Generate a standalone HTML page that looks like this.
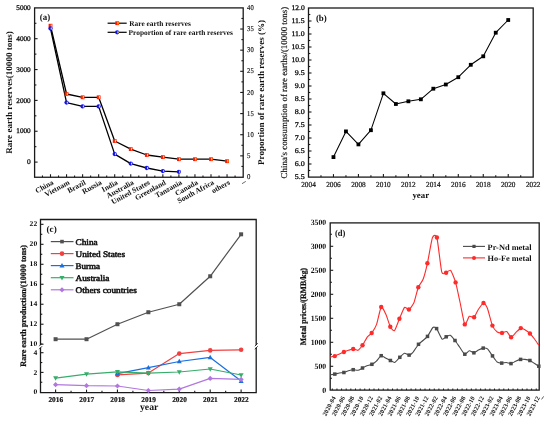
<!DOCTYPE html>
<html><head><meta charset="utf-8"><title>Rare earth figure</title>
<style>html,body{margin:0;padding:0;background:#fff;}svg{display:block;}text{font-family:"Liberation Serif", "DejaVu Serif", serif;fill:#111;text-rendering:geometricPrecision;}</style></head><body>
<svg width="550" height="421" viewBox="0 0 550 421">
<rect width="550" height="421" fill="#fff"/>
<line x1="34.6" y1="162.1" x2="37.6" y2="162.1" stroke="#1a1a1a" stroke-width="1.1"/>
<line x1="34.6" y1="146.67" x2="36.4" y2="146.67" stroke="#1a1a1a" stroke-width="1.1"/>
<line x1="34.6" y1="131.25" x2="37.6" y2="131.25" stroke="#1a1a1a" stroke-width="1.1"/>
<line x1="34.6" y1="115.82" x2="36.4" y2="115.82" stroke="#1a1a1a" stroke-width="1.1"/>
<line x1="34.6" y1="100.4" x2="37.6" y2="100.4" stroke="#1a1a1a" stroke-width="1.1"/>
<line x1="34.6" y1="84.97" x2="36.4" y2="84.97" stroke="#1a1a1a" stroke-width="1.1"/>
<line x1="34.6" y1="69.55" x2="37.6" y2="69.55" stroke="#1a1a1a" stroke-width="1.1"/>
<line x1="34.6" y1="54.12" x2="36.4" y2="54.12" stroke="#1a1a1a" stroke-width="1.1"/>
<line x1="34.6" y1="38.7" x2="37.6" y2="38.7" stroke="#1a1a1a" stroke-width="1.1"/>
<line x1="34.6" y1="23.28" x2="36.4" y2="23.28" stroke="#1a1a1a" stroke-width="1.1"/>
<text x="30.7" y="164.34" font-size="7.1" text-anchor="end" textLength="3.7" lengthAdjust="spacingAndGlyphs" stroke="#111" stroke-width="0.3">0</text>
<text x="30.7" y="133.49" font-size="7.1" text-anchor="end" textLength="14.4" lengthAdjust="spacingAndGlyphs" stroke="#111" stroke-width="0.3">1000</text>
<text x="30.7" y="102.64" font-size="7.1" text-anchor="end" textLength="14.4" lengthAdjust="spacingAndGlyphs" stroke="#111" stroke-width="0.3">2000</text>
<text x="30.7" y="71.79" font-size="7.1" text-anchor="end" textLength="14.4" lengthAdjust="spacingAndGlyphs" stroke="#111" stroke-width="0.3">3000</text>
<text x="30.7" y="40.94" font-size="7.1" text-anchor="end" textLength="14.4" lengthAdjust="spacingAndGlyphs" stroke="#111" stroke-width="0.3">4000</text>
<text x="30.7" y="10.09" font-size="7.1" text-anchor="end" textLength="14.4" lengthAdjust="spacingAndGlyphs" stroke="#111" stroke-width="0.3">5000</text>
<line x1="241.4" y1="166.43" x2="243.2" y2="166.43" stroke="#1a1a1a" stroke-width="1.1"/>
<line x1="240.2" y1="155.86" x2="243.2" y2="155.86" stroke="#1a1a1a" stroke-width="1.1"/>
<line x1="241.4" y1="145.29" x2="243.2" y2="145.29" stroke="#1a1a1a" stroke-width="1.1"/>
<line x1="240.2" y1="134.72" x2="243.2" y2="134.72" stroke="#1a1a1a" stroke-width="1.1"/>
<line x1="241.4" y1="124.16" x2="243.2" y2="124.16" stroke="#1a1a1a" stroke-width="1.1"/>
<line x1="240.2" y1="113.59" x2="243.2" y2="113.59" stroke="#1a1a1a" stroke-width="1.1"/>
<line x1="241.4" y1="103.02" x2="243.2" y2="103.02" stroke="#1a1a1a" stroke-width="1.1"/>
<line x1="240.2" y1="92.45" x2="243.2" y2="92.45" stroke="#1a1a1a" stroke-width="1.1"/>
<line x1="241.4" y1="81.88" x2="243.2" y2="81.88" stroke="#1a1a1a" stroke-width="1.1"/>
<line x1="240.2" y1="71.31" x2="243.2" y2="71.31" stroke="#1a1a1a" stroke-width="1.1"/>
<line x1="241.4" y1="60.74" x2="243.2" y2="60.74" stroke="#1a1a1a" stroke-width="1.1"/>
<line x1="240.2" y1="50.17" x2="243.2" y2="50.17" stroke="#1a1a1a" stroke-width="1.1"/>
<line x1="241.4" y1="39.61" x2="243.2" y2="39.61" stroke="#1a1a1a" stroke-width="1.1"/>
<line x1="240.2" y1="29.04" x2="243.2" y2="29.04" stroke="#1a1a1a" stroke-width="1.1"/>
<line x1="241.4" y1="18.47" x2="243.2" y2="18.47" stroke="#1a1a1a" stroke-width="1.1"/>
<text x="247.1" y="179.14" font-size="7.4" textLength="3.4" lengthAdjust="spacingAndGlyphs" stroke="#111" stroke-width="0.15">0</text>
<text x="247.1" y="158" font-size="7.4" textLength="3.4" lengthAdjust="spacingAndGlyphs" stroke="#111" stroke-width="0.15">5</text>
<text x="247.1" y="136.87" font-size="7.4" textLength="6.6" lengthAdjust="spacingAndGlyphs" stroke="#111" stroke-width="0.15">10</text>
<text x="247.1" y="115.73" font-size="7.4" textLength="6.6" lengthAdjust="spacingAndGlyphs" stroke="#111" stroke-width="0.15">15</text>
<text x="247.1" y="94.59" font-size="7.4" textLength="6.6" lengthAdjust="spacingAndGlyphs" stroke="#111" stroke-width="0.15">20</text>
<text x="247.1" y="73.45" font-size="7.4" textLength="6.6" lengthAdjust="spacingAndGlyphs" stroke="#111" stroke-width="0.15">25</text>
<text x="247.1" y="52.32" font-size="7.4" textLength="6.6" lengthAdjust="spacingAndGlyphs" stroke="#111" stroke-width="0.15">30</text>
<text x="247.1" y="31.18" font-size="7.4" textLength="6.6" lengthAdjust="spacingAndGlyphs" stroke="#111" stroke-width="0.15">35</text>
<text x="247.1" y="10.04" font-size="7.4" textLength="6.6" lengthAdjust="spacingAndGlyphs" stroke="#111" stroke-width="0.15">40</text>
<line x1="42.48" y1="177.25" x2="42.48" y2="175.45" stroke="#1a1a1a" stroke-width="1.1"/>
<line x1="50.5" y1="177.25" x2="50.5" y2="174.25" stroke="#1a1a1a" stroke-width="1.1"/>
<line x1="58.52" y1="177.25" x2="58.52" y2="175.45" stroke="#1a1a1a" stroke-width="1.1"/>
<line x1="66.55" y1="177.25" x2="66.55" y2="174.25" stroke="#1a1a1a" stroke-width="1.1"/>
<line x1="74.58" y1="177.25" x2="74.58" y2="175.45" stroke="#1a1a1a" stroke-width="1.1"/>
<line x1="82.6" y1="177.25" x2="82.6" y2="174.25" stroke="#1a1a1a" stroke-width="1.1"/>
<line x1="90.62" y1="177.25" x2="90.62" y2="175.45" stroke="#1a1a1a" stroke-width="1.1"/>
<line x1="98.65" y1="177.25" x2="98.65" y2="174.25" stroke="#1a1a1a" stroke-width="1.1"/>
<line x1="106.68" y1="177.25" x2="106.68" y2="175.45" stroke="#1a1a1a" stroke-width="1.1"/>
<line x1="114.7" y1="177.25" x2="114.7" y2="174.25" stroke="#1a1a1a" stroke-width="1.1"/>
<line x1="122.73" y1="177.25" x2="122.73" y2="175.45" stroke="#1a1a1a" stroke-width="1.1"/>
<line x1="130.75" y1="177.25" x2="130.75" y2="174.25" stroke="#1a1a1a" stroke-width="1.1"/>
<line x1="138.78" y1="177.25" x2="138.78" y2="175.45" stroke="#1a1a1a" stroke-width="1.1"/>
<line x1="146.8" y1="177.25" x2="146.8" y2="174.25" stroke="#1a1a1a" stroke-width="1.1"/>
<line x1="154.83" y1="177.25" x2="154.83" y2="175.45" stroke="#1a1a1a" stroke-width="1.1"/>
<line x1="162.85" y1="177.25" x2="162.85" y2="174.25" stroke="#1a1a1a" stroke-width="1.1"/>
<line x1="170.88" y1="177.25" x2="170.88" y2="175.45" stroke="#1a1a1a" stroke-width="1.1"/>
<line x1="178.9" y1="177.25" x2="178.9" y2="174.25" stroke="#1a1a1a" stroke-width="1.1"/>
<line x1="186.93" y1="177.25" x2="186.93" y2="175.45" stroke="#1a1a1a" stroke-width="1.1"/>
<line x1="194.95" y1="177.25" x2="194.95" y2="174.25" stroke="#1a1a1a" stroke-width="1.1"/>
<line x1="202.98" y1="177.25" x2="202.98" y2="175.45" stroke="#1a1a1a" stroke-width="1.1"/>
<line x1="211" y1="177.25" x2="211" y2="174.25" stroke="#1a1a1a" stroke-width="1.1"/>
<line x1="219.03" y1="177.25" x2="219.03" y2="175.45" stroke="#1a1a1a" stroke-width="1.1"/>
<line x1="227.05" y1="177.25" x2="227.05" y2="174.25" stroke="#1a1a1a" stroke-width="1.1"/>
<line x1="235.08" y1="177.25" x2="235.08" y2="175.45" stroke="#1a1a1a" stroke-width="1.1"/>
<rect x="34.6" y="7.9" width="208.6" height="169.35" fill="none" stroke="#1a1a1a" stroke-width="1.3"/>
<text x="11.9" y="92.5" transform="rotate(-90 11.9 92.5)" font-size="8.8" text-anchor="middle" font-weight="bold" textLength="122.7" lengthAdjust="spacingAndGlyphs">Rare earth reserves(10000 tons)</text>
<text x="263.7" y="92.45" transform="rotate(-90 263.7 92.45)" font-size="8.8" text-anchor="middle" font-weight="bold" textLength="144.9" lengthAdjust="spacingAndGlyphs">Proportion of rare earth reserves (%)</text>
<text x="39.75" y="20.07" font-size="9" font-weight="bold" textLength="10.4" lengthAdjust="spacingAndGlyphs">(a)</text>
<text x="52.9" y="184.2" font-size="7.5" font-weight="bold" text-anchor="end" transform="rotate(-29 52.9 181.7)">China</text>
<text x="68.95" y="184.2" font-size="7.5" font-weight="bold" text-anchor="end" transform="rotate(-29 68.95 181.7)">Vietnam</text>
<text x="85" y="184.2" font-size="7.5" font-weight="bold" text-anchor="end" transform="rotate(-29 85 181.7)">Brazil</text>
<text x="101.05" y="184.2" font-size="7.5" font-weight="bold" text-anchor="end" transform="rotate(-29 101.05 181.7)">Russia</text>
<text x="117.1" y="184.2" font-size="7.5" font-weight="bold" text-anchor="end" transform="rotate(-29 117.1 181.7)">India</text>
<text x="133.15" y="184.2" font-size="7.5" font-weight="bold" text-anchor="end" transform="rotate(-29 133.15 181.7)">Australia</text>
<text x="149.2" y="184.2" font-size="7.5" font-weight="bold" text-anchor="end" transform="rotate(-29 149.2 181.7)">United States</text>
<text x="165.25" y="184.2" font-size="7.5" font-weight="bold" text-anchor="end" transform="rotate(-29 165.25 181.7)">Greenland</text>
<text x="181.3" y="184.2" font-size="7.5" font-weight="bold" text-anchor="end" transform="rotate(-29 181.3 181.7)">Tanzania</text>
<text x="197.35" y="184.2" font-size="7.5" font-weight="bold" text-anchor="end" transform="rotate(-29 197.35 181.7)">Canada</text>
<text x="213.4" y="184.2" font-size="7.5" font-weight="bold" text-anchor="end" transform="rotate(-29 213.4 181.7)">South Africa</text>
<text x="229.45" y="184.2" font-size="7.5" font-weight="bold" text-anchor="end" transform="rotate(-29 229.45 181.7)">others</text>
<line x1="242" y1="183.7" x2="245.8" y2="181.4" stroke="#444" stroke-width="0.8"/>
<polyline points="50.5,25.7 66.55,94 82.6,97.3 98.65,97.3 114.7,141 130.75,149.1 146.8,155 162.85,157.1 178.9,159.2 194.95,159.2 211,159.2 227.05,161.2" fill="none" stroke="#000" stroke-width="1.3" stroke-linejoin="round"/>
<polyline points="50.5,28.5 66.55,102.6 82.6,106.4 98.65,106.4 114.7,154.1 130.75,163.6 146.8,168 162.85,171.1 178.9,171.8" fill="none" stroke="#000" stroke-width="1.3" stroke-linejoin="round"/>
<rect x="48.6" y="23.8" width="3.8" height="3.8" fill="#ff1a00"/>
<rect x="50.7" y="24.4" width="1.1" height="2.6" fill="#ffe000"/>
<rect x="64.65" y="92.1" width="3.8" height="3.8" fill="#ff1a00"/>
<rect x="66.75" y="92.7" width="1.1" height="2.6" fill="#ffe000"/>
<rect x="80.7" y="95.4" width="3.8" height="3.8" fill="#ff1a00"/>
<rect x="82.8" y="96" width="1.1" height="2.6" fill="#ffe000"/>
<rect x="96.75" y="95.4" width="3.8" height="3.8" fill="#ff1a00"/>
<rect x="98.85" y="96" width="1.1" height="2.6" fill="#ffe000"/>
<rect x="112.8" y="139.1" width="3.8" height="3.8" fill="#ff1a00"/>
<rect x="114.9" y="139.7" width="1.1" height="2.6" fill="#ffe000"/>
<rect x="128.85" y="147.2" width="3.8" height="3.8" fill="#ff1a00"/>
<rect x="130.95" y="147.8" width="1.1" height="2.6" fill="#ffe000"/>
<rect x="144.9" y="153.1" width="3.8" height="3.8" fill="#ff1a00"/>
<rect x="147" y="153.7" width="1.1" height="2.6" fill="#ffe000"/>
<rect x="160.95" y="155.2" width="3.8" height="3.8" fill="#ff1a00"/>
<rect x="163.05" y="155.8" width="1.1" height="2.6" fill="#ffe000"/>
<rect x="177" y="157.3" width="3.8" height="3.8" fill="#ff1a00"/>
<rect x="179.1" y="157.9" width="1.1" height="2.6" fill="#ffe000"/>
<rect x="193.05" y="157.3" width="3.8" height="3.8" fill="#ff1a00"/>
<rect x="195.15" y="157.9" width="1.1" height="2.6" fill="#ffe000"/>
<rect x="209.1" y="157.3" width="3.8" height="3.8" fill="#ff1a00"/>
<rect x="211.2" y="157.9" width="1.1" height="2.6" fill="#ffe000"/>
<rect x="225.15" y="159.3" width="3.8" height="3.8" fill="#ff1a00"/>
<rect x="227.25" y="159.9" width="1.1" height="2.6" fill="#ffe000"/>
<circle cx="50.5" cy="28.5" r="2.15" fill="#1010ff"/>
<ellipse cx="51.3" cy="28.5" rx="0.6" ry="1.2" fill="#ffe800"/>
<circle cx="66.55" cy="102.6" r="2.15" fill="#1010ff"/>
<ellipse cx="67.35" cy="102.6" rx="0.6" ry="1.2" fill="#ffe800"/>
<circle cx="82.6" cy="106.4" r="2.15" fill="#1010ff"/>
<ellipse cx="83.4" cy="106.4" rx="0.6" ry="1.2" fill="#ffe800"/>
<circle cx="98.65" cy="106.4" r="2.15" fill="#1010ff"/>
<ellipse cx="99.45" cy="106.4" rx="0.6" ry="1.2" fill="#ffe800"/>
<circle cx="114.7" cy="154.1" r="2.15" fill="#1010ff"/>
<ellipse cx="115.5" cy="154.1" rx="0.6" ry="1.2" fill="#ffe800"/>
<circle cx="130.75" cy="163.6" r="2.15" fill="#1010ff"/>
<ellipse cx="131.55" cy="163.6" rx="0.6" ry="1.2" fill="#ffe800"/>
<circle cx="146.8" cy="168" r="2.15" fill="#1010ff"/>
<ellipse cx="147.6" cy="168" rx="0.6" ry="1.2" fill="#ffe800"/>
<circle cx="162.85" cy="171.1" r="2.15" fill="#1010ff"/>
<ellipse cx="163.65" cy="171.1" rx="0.6" ry="1.2" fill="#ffe800"/>
<circle cx="178.9" cy="171.8" r="2.15" fill="#1010ff"/>
<ellipse cx="179.7" cy="171.8" rx="0.6" ry="1.2" fill="#ffe800"/>
<line x1="107.6" y1="23.2" x2="126.7" y2="23.2" stroke="#000" stroke-width="1.2"/>
<rect x="115.3" y="21.3" width="3.8" height="3.8" fill="#ff1a00"/>
<rect x="117.4" y="21.9" width="1.1" height="2.6" fill="#ffe000"/>
<text x="129.3" y="25.94" font-size="7.4" font-weight="bold" textLength="61.5" lengthAdjust="spacingAndGlyphs">Rare earth reserves</text>
<line x1="107.6" y1="32.3" x2="126.7" y2="32.3" stroke="#000" stroke-width="1.2"/>
<circle cx="117.2" cy="32.3" r="2.15" fill="#1010ff"/>
<ellipse cx="118" cy="32.3" rx="0.6" ry="1.2" fill="#ffe800"/>
<text x="128.6" y="35.24" font-size="7.4" font-weight="bold" textLength="104.2" lengthAdjust="spacingAndGlyphs">Proportion of rare earth reserves</text>
<line x1="308.5" y1="170.5" x2="310.3" y2="170.5" stroke="#1a1a1a" stroke-width="1.1"/>
<line x1="308.5" y1="164" x2="311.5" y2="164" stroke="#1a1a1a" stroke-width="1.1"/>
<line x1="308.5" y1="157.5" x2="310.3" y2="157.5" stroke="#1a1a1a" stroke-width="1.1"/>
<line x1="308.5" y1="151" x2="311.5" y2="151" stroke="#1a1a1a" stroke-width="1.1"/>
<line x1="308.5" y1="144.5" x2="310.3" y2="144.5" stroke="#1a1a1a" stroke-width="1.1"/>
<line x1="308.5" y1="138" x2="311.5" y2="138" stroke="#1a1a1a" stroke-width="1.1"/>
<line x1="308.5" y1="131.5" x2="310.3" y2="131.5" stroke="#1a1a1a" stroke-width="1.1"/>
<line x1="308.5" y1="125" x2="311.5" y2="125" stroke="#1a1a1a" stroke-width="1.1"/>
<line x1="308.5" y1="118.5" x2="310.3" y2="118.5" stroke="#1a1a1a" stroke-width="1.1"/>
<line x1="308.5" y1="112" x2="311.5" y2="112" stroke="#1a1a1a" stroke-width="1.1"/>
<line x1="308.5" y1="105.5" x2="310.3" y2="105.5" stroke="#1a1a1a" stroke-width="1.1"/>
<line x1="308.5" y1="99" x2="311.5" y2="99" stroke="#1a1a1a" stroke-width="1.1"/>
<line x1="308.5" y1="92.5" x2="310.3" y2="92.5" stroke="#1a1a1a" stroke-width="1.1"/>
<line x1="308.5" y1="86" x2="311.5" y2="86" stroke="#1a1a1a" stroke-width="1.1"/>
<line x1="308.5" y1="79.5" x2="310.3" y2="79.5" stroke="#1a1a1a" stroke-width="1.1"/>
<line x1="308.5" y1="73" x2="311.5" y2="73" stroke="#1a1a1a" stroke-width="1.1"/>
<line x1="308.5" y1="66.5" x2="310.3" y2="66.5" stroke="#1a1a1a" stroke-width="1.1"/>
<line x1="308.5" y1="60" x2="311.5" y2="60" stroke="#1a1a1a" stroke-width="1.1"/>
<line x1="308.5" y1="53.5" x2="310.3" y2="53.5" stroke="#1a1a1a" stroke-width="1.1"/>
<line x1="308.5" y1="47" x2="311.5" y2="47" stroke="#1a1a1a" stroke-width="1.1"/>
<line x1="308.5" y1="40.5" x2="310.3" y2="40.5" stroke="#1a1a1a" stroke-width="1.1"/>
<line x1="308.5" y1="34" x2="311.5" y2="34" stroke="#1a1a1a" stroke-width="1.1"/>
<line x1="308.5" y1="27.5" x2="310.3" y2="27.5" stroke="#1a1a1a" stroke-width="1.1"/>
<line x1="308.5" y1="21" x2="311.5" y2="21" stroke="#1a1a1a" stroke-width="1.1"/>
<line x1="308.5" y1="14.5" x2="310.3" y2="14.5" stroke="#1a1a1a" stroke-width="1.1"/>
<text x="304.7" y="178.94" font-size="7.1" text-anchor="end" textLength="10" lengthAdjust="spacingAndGlyphs" stroke="#111" stroke-width="0.3">5.5</text>
<text x="304.7" y="165.94" font-size="7.1" text-anchor="end" textLength="10" lengthAdjust="spacingAndGlyphs" stroke="#111" stroke-width="0.3">6.0</text>
<text x="304.7" y="152.94" font-size="7.1" text-anchor="end" textLength="10" lengthAdjust="spacingAndGlyphs" stroke="#111" stroke-width="0.3">6.5</text>
<text x="304.7" y="139.94" font-size="7.1" text-anchor="end" textLength="10" lengthAdjust="spacingAndGlyphs" stroke="#111" stroke-width="0.3">7.0</text>
<text x="304.7" y="126.94" font-size="7.1" text-anchor="end" textLength="10" lengthAdjust="spacingAndGlyphs" stroke="#111" stroke-width="0.3">7.5</text>
<text x="304.7" y="113.94" font-size="7.1" text-anchor="end" textLength="10" lengthAdjust="spacingAndGlyphs" stroke="#111" stroke-width="0.3">8.0</text>
<text x="304.7" y="100.94" font-size="7.1" text-anchor="end" textLength="10" lengthAdjust="spacingAndGlyphs" stroke="#111" stroke-width="0.3">8.5</text>
<text x="304.7" y="87.94" font-size="7.1" text-anchor="end" textLength="10" lengthAdjust="spacingAndGlyphs" stroke="#111" stroke-width="0.3">9.0</text>
<text x="304.7" y="74.94" font-size="7.1" text-anchor="end" textLength="10" lengthAdjust="spacingAndGlyphs" stroke="#111" stroke-width="0.3">9.5</text>
<text x="304.7" y="61.94" font-size="7.1" text-anchor="end" textLength="13.3" lengthAdjust="spacingAndGlyphs" stroke="#111" stroke-width="0.3">10.0</text>
<text x="304.7" y="48.94" font-size="7.1" text-anchor="end" textLength="13.3" lengthAdjust="spacingAndGlyphs" stroke="#111" stroke-width="0.3">10.5</text>
<text x="304.7" y="35.94" font-size="7.1" text-anchor="end" textLength="13.3" lengthAdjust="spacingAndGlyphs" stroke="#111" stroke-width="0.3">11.0</text>
<text x="304.7" y="22.94" font-size="7.1" text-anchor="end" textLength="13.3" lengthAdjust="spacingAndGlyphs" stroke="#111" stroke-width="0.3">11.5</text>
<text x="304.7" y="9.94" font-size="7.1" text-anchor="end" textLength="13.3" lengthAdjust="spacingAndGlyphs" stroke="#111" stroke-width="0.3">12.0</text>
<line x1="320.98" y1="177.1" x2="320.98" y2="175.3" stroke="#1a1a1a" stroke-width="1.1"/>
<line x1="333.47" y1="177.1" x2="333.47" y2="174.1" stroke="#1a1a1a" stroke-width="1.1"/>
<line x1="345.95" y1="177.1" x2="345.95" y2="175.3" stroke="#1a1a1a" stroke-width="1.1"/>
<line x1="358.43" y1="177.1" x2="358.43" y2="174.1" stroke="#1a1a1a" stroke-width="1.1"/>
<line x1="370.92" y1="177.1" x2="370.92" y2="175.3" stroke="#1a1a1a" stroke-width="1.1"/>
<line x1="383.4" y1="177.1" x2="383.4" y2="174.1" stroke="#1a1a1a" stroke-width="1.1"/>
<line x1="395.88" y1="177.1" x2="395.88" y2="175.3" stroke="#1a1a1a" stroke-width="1.1"/>
<line x1="408.36" y1="177.1" x2="408.36" y2="174.1" stroke="#1a1a1a" stroke-width="1.1"/>
<line x1="420.85" y1="177.1" x2="420.85" y2="175.3" stroke="#1a1a1a" stroke-width="1.1"/>
<line x1="433.33" y1="177.1" x2="433.33" y2="174.1" stroke="#1a1a1a" stroke-width="1.1"/>
<line x1="445.81" y1="177.1" x2="445.81" y2="175.3" stroke="#1a1a1a" stroke-width="1.1"/>
<line x1="458.3" y1="177.1" x2="458.3" y2="174.1" stroke="#1a1a1a" stroke-width="1.1"/>
<line x1="470.78" y1="177.1" x2="470.78" y2="175.3" stroke="#1a1a1a" stroke-width="1.1"/>
<line x1="483.26" y1="177.1" x2="483.26" y2="174.1" stroke="#1a1a1a" stroke-width="1.1"/>
<line x1="495.75" y1="177.1" x2="495.75" y2="175.3" stroke="#1a1a1a" stroke-width="1.1"/>
<line x1="508.23" y1="177.1" x2="508.23" y2="174.1" stroke="#1a1a1a" stroke-width="1.1"/>
<line x1="520.71" y1="177.1" x2="520.71" y2="175.3" stroke="#1a1a1a" stroke-width="1.1"/>
<text x="308.5" y="186.64" font-size="7.7" text-anchor="middle" textLength="14.6" lengthAdjust="spacingAndGlyphs" stroke="#111" stroke-width="0.2">2004</text>
<text x="333.47" y="186.64" font-size="7.7" text-anchor="middle" textLength="14.6" lengthAdjust="spacingAndGlyphs" stroke="#111" stroke-width="0.2">2006</text>
<text x="358.43" y="186.64" font-size="7.7" text-anchor="middle" textLength="14.6" lengthAdjust="spacingAndGlyphs" stroke="#111" stroke-width="0.2">2008</text>
<text x="383.4" y="186.64" font-size="7.7" text-anchor="middle" textLength="14.6" lengthAdjust="spacingAndGlyphs" stroke="#111" stroke-width="0.2">2010</text>
<text x="408.36" y="186.64" font-size="7.7" text-anchor="middle" textLength="14.6" lengthAdjust="spacingAndGlyphs" stroke="#111" stroke-width="0.2">2012</text>
<text x="433.33" y="186.64" font-size="7.7" text-anchor="middle" textLength="14.6" lengthAdjust="spacingAndGlyphs" stroke="#111" stroke-width="0.2">2014</text>
<text x="458.3" y="186.64" font-size="7.7" text-anchor="middle" textLength="14.6" lengthAdjust="spacingAndGlyphs" stroke="#111" stroke-width="0.2">2016</text>
<text x="483.26" y="186.64" font-size="7.7" text-anchor="middle" textLength="14.6" lengthAdjust="spacingAndGlyphs" stroke="#111" stroke-width="0.2">2018</text>
<text x="508.23" y="186.64" font-size="7.7" text-anchor="middle" textLength="14.6" lengthAdjust="spacingAndGlyphs" stroke="#111" stroke-width="0.2">2020</text>
<text x="533.19" y="186.64" font-size="7.7" text-anchor="middle" textLength="14.6" lengthAdjust="spacingAndGlyphs" stroke="#111" stroke-width="0.2">2022</text>
<rect x="308.5" y="8" width="224.7" height="169.1" fill="none" stroke="#1a1a1a" stroke-width="1.3"/>
<text x="287.3" y="92.6" transform="rotate(-90 287.3 92.6)" font-size="8.9" text-anchor="middle" textLength="171.6" lengthAdjust="spacingAndGlyphs" stroke="#111" stroke-width="0.15">China's consumption of rare earths/(10000 tons)</text>
<text x="420.8" y="198.3" font-size="8.8" text-anchor="middle" font-weight="bold" textLength="16.7" lengthAdjust="spacingAndGlyphs">year</text>
<text x="315.9" y="20.57" font-size="9" font-weight="bold" textLength="10.9" lengthAdjust="spacingAndGlyphs">(b)</text>
<polyline points="333.47,157.1 345.95,131.4 358.43,144.4 370.92,130.2 383.4,93.3 395.88,104 408.36,101.3 420.85,99.3 433.33,88.7 445.81,84.5 458.3,77.2 470.78,64.8 483.26,56.3 495.75,32.7 508.23,20" fill="none" stroke="#000" stroke-width="1.05" stroke-linejoin="round"/>
<rect x="331.57" y="155.2" width="3.8" height="3.8" fill="#000"/>
<rect x="344.05" y="129.5" width="3.8" height="3.8" fill="#000"/>
<rect x="356.53" y="142.5" width="3.8" height="3.8" fill="#000"/>
<rect x="369.02" y="128.3" width="3.8" height="3.8" fill="#000"/>
<rect x="381.5" y="91.4" width="3.8" height="3.8" fill="#000"/>
<rect x="393.98" y="102.1" width="3.8" height="3.8" fill="#000"/>
<rect x="406.46" y="99.4" width="3.8" height="3.8" fill="#000"/>
<rect x="418.95" y="97.4" width="3.8" height="3.8" fill="#000"/>
<rect x="431.43" y="86.8" width="3.8" height="3.8" fill="#000"/>
<rect x="443.91" y="82.6" width="3.8" height="3.8" fill="#000"/>
<rect x="456.4" y="75.3" width="3.8" height="3.8" fill="#000"/>
<rect x="468.88" y="62.9" width="3.8" height="3.8" fill="#000"/>
<rect x="481.36" y="54.4" width="3.8" height="3.8" fill="#000"/>
<rect x="493.85" y="30.8" width="3.8" height="3.8" fill="#000"/>
<rect x="506.33" y="18.1" width="3.8" height="3.8" fill="#000"/>
<line x1="40.5" y1="344.2" x2="43.5" y2="344.2" stroke="#1a1a1a" stroke-width="1.1"/>
<line x1="40.5" y1="334.21" x2="42.3" y2="334.21" stroke="#1a1a1a" stroke-width="1.1"/>
<line x1="40.5" y1="324.22" x2="43.5" y2="324.22" stroke="#1a1a1a" stroke-width="1.1"/>
<line x1="40.5" y1="314.23" x2="42.3" y2="314.23" stroke="#1a1a1a" stroke-width="1.1"/>
<line x1="40.5" y1="304.24" x2="43.5" y2="304.24" stroke="#1a1a1a" stroke-width="1.1"/>
<line x1="40.5" y1="294.25" x2="42.3" y2="294.25" stroke="#1a1a1a" stroke-width="1.1"/>
<line x1="40.5" y1="284.26" x2="43.5" y2="284.26" stroke="#1a1a1a" stroke-width="1.1"/>
<line x1="40.5" y1="274.27" x2="42.3" y2="274.27" stroke="#1a1a1a" stroke-width="1.1"/>
<line x1="40.5" y1="264.28" x2="43.5" y2="264.28" stroke="#1a1a1a" stroke-width="1.1"/>
<line x1="40.5" y1="254.29" x2="42.3" y2="254.29" stroke="#1a1a1a" stroke-width="1.1"/>
<line x1="40.5" y1="244.3" x2="43.5" y2="244.3" stroke="#1a1a1a" stroke-width="1.1"/>
<line x1="40.5" y1="234.31" x2="42.3" y2="234.31" stroke="#1a1a1a" stroke-width="1.1"/>
<line x1="40.5" y1="224.32" x2="43.5" y2="224.32" stroke="#1a1a1a" stroke-width="1.1"/>
<line x1="40.5" y1="382.25" x2="42.3" y2="382.25" stroke="#1a1a1a" stroke-width="1.1"/>
<line x1="40.5" y1="372.4" x2="43.5" y2="372.4" stroke="#1a1a1a" stroke-width="1.1"/>
<line x1="40.5" y1="362.55" x2="42.3" y2="362.55" stroke="#1a1a1a" stroke-width="1.1"/>
<line x1="40.5" y1="352.7" x2="43.5" y2="352.7" stroke="#1a1a1a" stroke-width="1.1"/>
<text x="37.2" y="346.11" font-size="7.3" text-anchor="end" font-weight="bold" textLength="7.6" lengthAdjust="spacingAndGlyphs">10</text>
<text x="37.2" y="326.13" font-size="7.3" text-anchor="end" font-weight="bold" textLength="7.6" lengthAdjust="spacingAndGlyphs">12</text>
<text x="37.2" y="306.15" font-size="7.3" text-anchor="end" font-weight="bold" textLength="7.6" lengthAdjust="spacingAndGlyphs">14</text>
<text x="37.2" y="286.17" font-size="7.3" text-anchor="end" font-weight="bold" textLength="7.6" lengthAdjust="spacingAndGlyphs">16</text>
<text x="37.2" y="266.19" font-size="7.3" text-anchor="end" font-weight="bold" textLength="7.6" lengthAdjust="spacingAndGlyphs">18</text>
<text x="37.2" y="246.21" font-size="7.3" text-anchor="end" font-weight="bold" textLength="7.6" lengthAdjust="spacingAndGlyphs">20</text>
<text x="37.2" y="226.23" font-size="7.3" text-anchor="end" font-weight="bold" textLength="7.6" lengthAdjust="spacingAndGlyphs">22</text>
<text x="37.2" y="394.21" font-size="7.3" text-anchor="end" font-weight="bold" textLength="3.8" lengthAdjust="spacingAndGlyphs">0</text>
<text x="37.2" y="374.51" font-size="7.3" text-anchor="end" font-weight="bold" textLength="3.8" lengthAdjust="spacingAndGlyphs">2</text>
<text x="37.2" y="354.81" font-size="7.3" text-anchor="end" font-weight="bold" textLength="3.8" lengthAdjust="spacingAndGlyphs">4</text>
<line x1="55.6" y1="392.6" x2="55.6" y2="389.6" stroke="#1a1a1a" stroke-width="1.1"/>
<line x1="71.06" y1="392.6" x2="71.06" y2="390.8" stroke="#1a1a1a" stroke-width="1.1"/>
<line x1="86.52" y1="392.6" x2="86.52" y2="389.6" stroke="#1a1a1a" stroke-width="1.1"/>
<line x1="101.98" y1="392.6" x2="101.98" y2="390.8" stroke="#1a1a1a" stroke-width="1.1"/>
<line x1="117.44" y1="392.6" x2="117.44" y2="389.6" stroke="#1a1a1a" stroke-width="1.1"/>
<line x1="132.9" y1="392.6" x2="132.9" y2="390.8" stroke="#1a1a1a" stroke-width="1.1"/>
<line x1="148.36" y1="392.6" x2="148.36" y2="389.6" stroke="#1a1a1a" stroke-width="1.1"/>
<line x1="163.82" y1="392.6" x2="163.82" y2="390.8" stroke="#1a1a1a" stroke-width="1.1"/>
<line x1="179.28" y1="392.6" x2="179.28" y2="389.6" stroke="#1a1a1a" stroke-width="1.1"/>
<line x1="194.74" y1="392.6" x2="194.74" y2="390.8" stroke="#1a1a1a" stroke-width="1.1"/>
<line x1="210.2" y1="392.6" x2="210.2" y2="389.6" stroke="#1a1a1a" stroke-width="1.1"/>
<line x1="225.66" y1="392.6" x2="225.66" y2="390.8" stroke="#1a1a1a" stroke-width="1.1"/>
<line x1="241.12" y1="392.6" x2="241.12" y2="389.6" stroke="#1a1a1a" stroke-width="1.1"/>
<text x="55.8" y="401.84" font-size="7.4" text-anchor="middle" font-weight="bold" textLength="14.7" lengthAdjust="spacingAndGlyphs" stroke="#111" stroke-width="0.2">2016</text>
<text x="86.72" y="401.84" font-size="7.4" text-anchor="middle" font-weight="bold" textLength="14.7" lengthAdjust="spacingAndGlyphs" stroke="#111" stroke-width="0.2">2017</text>
<text x="117.64" y="401.84" font-size="7.4" text-anchor="middle" font-weight="bold" textLength="14.7" lengthAdjust="spacingAndGlyphs" stroke="#111" stroke-width="0.2">2018</text>
<text x="148.56" y="401.84" font-size="7.4" text-anchor="middle" font-weight="bold" textLength="14.7" lengthAdjust="spacingAndGlyphs" stroke="#111" stroke-width="0.2">2019</text>
<text x="179.48" y="401.84" font-size="7.4" text-anchor="middle" font-weight="bold" textLength="14.7" lengthAdjust="spacingAndGlyphs" stroke="#111" stroke-width="0.2">2020</text>
<text x="210.4" y="401.84" font-size="7.4" text-anchor="middle" font-weight="bold" textLength="14.7" lengthAdjust="spacingAndGlyphs" stroke="#111" stroke-width="0.2">2021</text>
<text x="241.32" y="401.84" font-size="7.4" text-anchor="middle" font-weight="bold" textLength="14.7" lengthAdjust="spacingAndGlyphs" stroke="#111" stroke-width="0.2">2022</text>
<path d="M40.5 219.5 H256.2 V392.6 H40.5 Z" fill="none" stroke="#1a1a1a" stroke-width="1.3"/>
<rect x="39" y="345.0" width="3" height="2.6" fill="#fff"/>
<line x1="39.2" y1="346.2" x2="42" y2="343.3" stroke="#1a1a1a" stroke-width="0.9"/>
<line x1="39.2" y1="349.2" x2="42" y2="346.3" stroke="#1a1a1a" stroke-width="0.9"/>
<rect x="254.7" y="345.0" width="3" height="2.6" fill="#fff"/>
<line x1="254.9" y1="346.2" x2="257.7" y2="343.3" stroke="#1a1a1a" stroke-width="0.9"/>
<line x1="254.9" y1="349.2" x2="257.7" y2="346.3" stroke="#1a1a1a" stroke-width="0.9"/>
<text x="25.9" y="305.85" transform="rotate(-90 25.9 305.85)" font-size="8.3" text-anchor="middle" font-weight="bold" textLength="121.7" lengthAdjust="spacingAndGlyphs" stroke="#111" stroke-width="0.25">Rare earth production/(10000 tons)</text>
<text x="149.2" y="410.47" font-size="9.6" text-anchor="middle" font-weight="bold" textLength="18.4" lengthAdjust="spacingAndGlyphs">year</text>
<text x="46.5" y="232.27" font-size="9" font-weight="bold" textLength="10.2" lengthAdjust="spacingAndGlyphs">(c)</text>
<polyline points="55.6,339.2 86.52,339.2 117.44,324.22 148.36,312.23 179.28,304.24 210.2,276.27 241.12,234.31" fill="none" stroke="#515151" stroke-width="1.2" stroke-linejoin="round"/>
<rect x="53.6" y="337.2" width="4" height="4" fill="#515151"/>
<rect x="84.52" y="337.2" width="4" height="4" fill="#515151"/>
<rect x="115.44" y="322.22" width="4" height="4" fill="#515151"/>
<rect x="146.36" y="310.23" width="4" height="4" fill="#515151"/>
<rect x="177.28" y="302.24" width="4" height="4" fill="#515151"/>
<rect x="208.2" y="274.27" width="4" height="4" fill="#515151"/>
<rect x="239.12" y="232.31" width="4" height="4" fill="#515151"/>
<polyline points="117.44,374.9 148.36,373.1 179.28,353.6 210.2,350.4 241.12,349.8" fill="none" stroke="#F14040" stroke-width="1.2" stroke-linejoin="round"/>
<circle cx="117.44" cy="374.9" r="2.3" fill="#F14040"/>
<circle cx="148.36" cy="373.1" r="2.3" fill="#F14040"/>
<circle cx="179.28" cy="353.6" r="2.3" fill="#F14040"/>
<circle cx="210.2" cy="350.4" r="2.3" fill="#F14040"/>
<circle cx="241.12" cy="349.8" r="2.3" fill="#F14040"/>
<polyline points="117.44,373.6 148.36,367.6 179.28,361.5 210.2,357.4 241.12,381.1" fill="none" stroke="#1A6FDF" stroke-width="1.2" stroke-linejoin="round"/>
<polygon points="117.44,370.9 114.94,375.4 119.94,375.4" fill="#1A6FDF"/>
<polygon points="148.36,364.9 145.86,369.4 150.86,369.4" fill="#1A6FDF"/>
<polygon points="179.28,358.8 176.78,363.3 181.78,363.3" fill="#1A6FDF"/>
<polygon points="210.2,354.7 207.7,359.2 212.7,359.2" fill="#1A6FDF"/>
<polygon points="241.12,378.4 238.62,382.9 243.62,382.9" fill="#1A6FDF"/>
<polyline points="55.6,378.1 86.52,374.1 117.44,371.8 148.36,373.1 179.28,372 210.2,369 241.12,375" fill="none" stroke="#37AD6B" stroke-width="1.2" stroke-linejoin="round"/>
<polygon points="55.6,380.8 53.1,376.3 58.1,376.3" fill="#37AD6B"/>
<polygon points="86.52,376.8 84.02,372.3 89.02,372.3" fill="#37AD6B"/>
<polygon points="117.44,374.5 114.94,370 119.94,370" fill="#37AD6B"/>
<polygon points="148.36,375.8 145.86,371.3 150.86,371.3" fill="#37AD6B"/>
<polygon points="179.28,374.7 176.78,370.2 181.78,370.2" fill="#37AD6B"/>
<polygon points="210.2,371.7 207.7,367.2 212.7,367.2" fill="#37AD6B"/>
<polygon points="241.12,377.7 238.62,373.2 243.62,373.2" fill="#37AD6B"/>
<polyline points="55.6,384.7 86.52,385.7 117.44,386 148.36,390.5 179.28,389.1 210.2,378.4 241.12,379.4" fill="none" stroke="#B177DE" stroke-width="1.2" stroke-linejoin="round"/>
<polygon points="55.6,382.1 58.2,384.7 55.6,387.3 53,384.7" fill="#B177DE"/>
<polygon points="86.52,383.1 89.12,385.7 86.52,388.3 83.92,385.7" fill="#B177DE"/>
<polygon points="117.44,383.4 120.04,386 117.44,388.6 114.84,386" fill="#B177DE"/>
<polygon points="148.36,387.9 150.96,390.5 148.36,393.1 145.76,390.5" fill="#B177DE"/>
<polygon points="179.28,386.5 181.88,389.1 179.28,391.7 176.68,389.1" fill="#B177DE"/>
<polygon points="210.2,375.8 212.8,378.4 210.2,381 207.6,378.4" fill="#B177DE"/>
<polygon points="241.12,376.8 243.72,379.4 241.12,382 238.52,379.4" fill="#B177DE"/>
<line x1="50.8" y1="241.6" x2="73.5" y2="241.6" stroke="#515151" stroke-width="1.2"/>
<rect x="60.2" y="239.8" width="3.6" height="3.6" fill="#515151"/>
<text x="75.5" y="244.94" font-size="8.6" textLength="22.2" lengthAdjust="spacingAndGlyphs" stroke="#111" stroke-width="0.5">China</text>
<line x1="50.8" y1="253.6" x2="73.5" y2="253.6" stroke="#F14040" stroke-width="1.2"/>
<circle cx="62" cy="253.6" r="2.3" fill="#F14040"/>
<text x="75.5" y="256.94" font-size="8.6" textLength="49.5" lengthAdjust="spacingAndGlyphs" stroke="#111" stroke-width="0.5">United States</text>
<line x1="50.8" y1="265.6" x2="73.5" y2="265.6" stroke="#1A6FDF" stroke-width="1.2"/>
<polygon points="62,262.9 59.5,267.4 64.5,267.4" fill="#1A6FDF"/>
<text x="75.5" y="268.94" font-size="8.6" textLength="24.4" lengthAdjust="spacingAndGlyphs" stroke="#111" stroke-width="0.5">Burma</text>
<line x1="50.8" y1="277.7" x2="73.5" y2="277.7" stroke="#37AD6B" stroke-width="1.2"/>
<polygon points="62,280.4 59.5,275.9 64.5,275.9" fill="#37AD6B"/>
<text x="75.5" y="281.04" font-size="8.6" textLength="34" lengthAdjust="spacingAndGlyphs" stroke="#111" stroke-width="0.5">Australia</text>
<line x1="50.8" y1="289.8" x2="73.5" y2="289.8" stroke="#B177DE" stroke-width="1.2"/>
<polygon points="62,287.2 64.6,289.8 62,292.4 59.4,289.8" fill="#B177DE"/>
<text x="75.5" y="293.14" font-size="8.6" textLength="61.3" lengthAdjust="spacingAndGlyphs" stroke="#111" stroke-width="0.5">Others countries</text>
<line x1="330.2" y1="378.3" x2="332" y2="378.3" stroke="#1a1a1a" stroke-width="1.1"/>
<line x1="330.2" y1="366.3" x2="333.2" y2="366.3" stroke="#1a1a1a" stroke-width="1.1"/>
<line x1="330.2" y1="354.3" x2="332" y2="354.3" stroke="#1a1a1a" stroke-width="1.1"/>
<line x1="330.2" y1="342.3" x2="333.2" y2="342.3" stroke="#1a1a1a" stroke-width="1.1"/>
<line x1="330.2" y1="330.3" x2="332" y2="330.3" stroke="#1a1a1a" stroke-width="1.1"/>
<line x1="330.2" y1="318.3" x2="333.2" y2="318.3" stroke="#1a1a1a" stroke-width="1.1"/>
<line x1="330.2" y1="306.3" x2="332" y2="306.3" stroke="#1a1a1a" stroke-width="1.1"/>
<line x1="330.2" y1="294.3" x2="333.2" y2="294.3" stroke="#1a1a1a" stroke-width="1.1"/>
<line x1="330.2" y1="282.3" x2="332" y2="282.3" stroke="#1a1a1a" stroke-width="1.1"/>
<line x1="330.2" y1="270.3" x2="333.2" y2="270.3" stroke="#1a1a1a" stroke-width="1.1"/>
<line x1="330.2" y1="258.3" x2="332" y2="258.3" stroke="#1a1a1a" stroke-width="1.1"/>
<line x1="330.2" y1="246.3" x2="333.2" y2="246.3" stroke="#1a1a1a" stroke-width="1.1"/>
<line x1="330.2" y1="234.3" x2="332" y2="234.3" stroke="#1a1a1a" stroke-width="1.1"/>
<text x="326.2" y="392.67" font-size="8.1" text-anchor="end" font-weight="bold" textLength="4" lengthAdjust="spacingAndGlyphs">0</text>
<text x="326.2" y="368.67" font-size="8.1" text-anchor="end" font-weight="bold" textLength="11.6" lengthAdjust="spacingAndGlyphs">500</text>
<text x="326.2" y="344.67" font-size="8.1" text-anchor="end" font-weight="bold" textLength="15.5" lengthAdjust="spacingAndGlyphs">1000</text>
<text x="326.2" y="320.67" font-size="8.1" text-anchor="end" font-weight="bold" textLength="15.5" lengthAdjust="spacingAndGlyphs">1500</text>
<text x="326.2" y="296.67" font-size="8.1" text-anchor="end" font-weight="bold" textLength="15.5" lengthAdjust="spacingAndGlyphs">2000</text>
<text x="326.2" y="272.67" font-size="8.1" text-anchor="end" font-weight="bold" textLength="15.5" lengthAdjust="spacingAndGlyphs">2500</text>
<text x="326.2" y="248.67" font-size="8.1" text-anchor="end" font-weight="bold" textLength="15.5" lengthAdjust="spacingAndGlyphs">3000</text>
<text x="326.2" y="224.67" font-size="8.1" text-anchor="end" font-weight="bold" textLength="15.5" lengthAdjust="spacingAndGlyphs">3500</text>
<line x1="332.3" y1="390.1" x2="332.3" y2="388.5" stroke="#1a1a1a" stroke-width="1"/>
<line x1="336.94" y1="390.1" x2="336.94" y2="388.5" stroke="#1a1a1a" stroke-width="1"/>
<line x1="341.57" y1="390.1" x2="341.57" y2="388.5" stroke="#1a1a1a" stroke-width="1"/>
<line x1="346.2" y1="390.1" x2="346.2" y2="388.5" stroke="#1a1a1a" stroke-width="1"/>
<line x1="350.84" y1="390.1" x2="350.84" y2="388.5" stroke="#1a1a1a" stroke-width="1"/>
<line x1="355.47" y1="390.1" x2="355.47" y2="388.5" stroke="#1a1a1a" stroke-width="1"/>
<line x1="360.11" y1="390.1" x2="360.11" y2="388.5" stroke="#1a1a1a" stroke-width="1"/>
<line x1="364.74" y1="390.1" x2="364.74" y2="388.5" stroke="#1a1a1a" stroke-width="1"/>
<line x1="369.38" y1="390.1" x2="369.38" y2="388.5" stroke="#1a1a1a" stroke-width="1"/>
<line x1="374.01" y1="390.1" x2="374.01" y2="388.5" stroke="#1a1a1a" stroke-width="1"/>
<line x1="378.65" y1="390.1" x2="378.65" y2="388.5" stroke="#1a1a1a" stroke-width="1"/>
<line x1="383.28" y1="390.1" x2="383.28" y2="388.5" stroke="#1a1a1a" stroke-width="1"/>
<line x1="387.92" y1="390.1" x2="387.92" y2="388.5" stroke="#1a1a1a" stroke-width="1"/>
<line x1="392.55" y1="390.1" x2="392.55" y2="388.5" stroke="#1a1a1a" stroke-width="1"/>
<line x1="397.19" y1="390.1" x2="397.19" y2="388.5" stroke="#1a1a1a" stroke-width="1"/>
<line x1="401.82" y1="390.1" x2="401.82" y2="388.5" stroke="#1a1a1a" stroke-width="1"/>
<line x1="406.46" y1="390.1" x2="406.46" y2="388.5" stroke="#1a1a1a" stroke-width="1"/>
<line x1="411.09" y1="390.1" x2="411.09" y2="388.5" stroke="#1a1a1a" stroke-width="1"/>
<line x1="415.73" y1="390.1" x2="415.73" y2="388.5" stroke="#1a1a1a" stroke-width="1"/>
<line x1="420.36" y1="390.1" x2="420.36" y2="388.5" stroke="#1a1a1a" stroke-width="1"/>
<line x1="425" y1="390.1" x2="425" y2="388.5" stroke="#1a1a1a" stroke-width="1"/>
<line x1="429.63" y1="390.1" x2="429.63" y2="388.5" stroke="#1a1a1a" stroke-width="1"/>
<line x1="434.27" y1="390.1" x2="434.27" y2="388.5" stroke="#1a1a1a" stroke-width="1"/>
<line x1="438.9" y1="390.1" x2="438.9" y2="388.5" stroke="#1a1a1a" stroke-width="1"/>
<line x1="443.54" y1="390.1" x2="443.54" y2="388.5" stroke="#1a1a1a" stroke-width="1"/>
<line x1="448.17" y1="390.1" x2="448.17" y2="388.5" stroke="#1a1a1a" stroke-width="1"/>
<line x1="452.81" y1="390.1" x2="452.81" y2="388.5" stroke="#1a1a1a" stroke-width="1"/>
<line x1="457.44" y1="390.1" x2="457.44" y2="388.5" stroke="#1a1a1a" stroke-width="1"/>
<line x1="462.08" y1="390.1" x2="462.08" y2="388.5" stroke="#1a1a1a" stroke-width="1"/>
<line x1="466.71" y1="390.1" x2="466.71" y2="388.5" stroke="#1a1a1a" stroke-width="1"/>
<line x1="471.35" y1="390.1" x2="471.35" y2="388.5" stroke="#1a1a1a" stroke-width="1"/>
<line x1="475.98" y1="390.1" x2="475.98" y2="388.5" stroke="#1a1a1a" stroke-width="1"/>
<line x1="480.62" y1="390.1" x2="480.62" y2="388.5" stroke="#1a1a1a" stroke-width="1"/>
<line x1="485.25" y1="390.1" x2="485.25" y2="388.5" stroke="#1a1a1a" stroke-width="1"/>
<line x1="489.89" y1="390.1" x2="489.89" y2="388.5" stroke="#1a1a1a" stroke-width="1"/>
<line x1="494.52" y1="390.1" x2="494.52" y2="388.5" stroke="#1a1a1a" stroke-width="1"/>
<line x1="499.16" y1="390.1" x2="499.16" y2="388.5" stroke="#1a1a1a" stroke-width="1"/>
<line x1="503.79" y1="390.1" x2="503.79" y2="388.5" stroke="#1a1a1a" stroke-width="1"/>
<line x1="508.43" y1="390.1" x2="508.43" y2="388.5" stroke="#1a1a1a" stroke-width="1"/>
<line x1="513.06" y1="390.1" x2="513.06" y2="388.5" stroke="#1a1a1a" stroke-width="1"/>
<line x1="517.7" y1="390.1" x2="517.7" y2="388.5" stroke="#1a1a1a" stroke-width="1"/>
<line x1="522.33" y1="390.1" x2="522.33" y2="388.5" stroke="#1a1a1a" stroke-width="1"/>
<line x1="526.97" y1="390.1" x2="526.97" y2="388.5" stroke="#1a1a1a" stroke-width="1"/>
<line x1="531.6" y1="390.1" x2="531.6" y2="388.5" stroke="#1a1a1a" stroke-width="1"/>
<line x1="536.24" y1="390.1" x2="536.24" y2="388.5" stroke="#1a1a1a" stroke-width="1"/>
<rect x="330.2" y="222.9" width="209" height="167.2" fill="none" stroke="#1a1a1a" stroke-width="1.3"/>
<text x="334.3" y="398.7" font-size="6.4" font-weight="bold" text-anchor="end" transform="rotate(-62 334.3 396.7)">2020-04</text>
<text x="343.57" y="398.7" font-size="6.4" font-weight="bold" text-anchor="end" transform="rotate(-62 343.57 396.7)">2020-06</text>
<text x="352.84" y="398.7" font-size="6.4" font-weight="bold" text-anchor="end" transform="rotate(-62 352.84 396.7)">2020-08</text>
<text x="362.11" y="398.7" font-size="6.4" font-weight="bold" text-anchor="end" transform="rotate(-62 362.11 396.7)">2020-10</text>
<text x="371.38" y="398.7" font-size="6.4" font-weight="bold" text-anchor="end" transform="rotate(-62 371.38 396.7)">2020-12</text>
<text x="380.65" y="398.7" font-size="6.4" font-weight="bold" text-anchor="end" transform="rotate(-62 380.65 396.7)">2021-02</text>
<text x="389.92" y="398.7" font-size="6.4" font-weight="bold" text-anchor="end" transform="rotate(-62 389.92 396.7)">2021-04</text>
<text x="399.19" y="398.7" font-size="6.4" font-weight="bold" text-anchor="end" transform="rotate(-62 399.19 396.7)">2021-06</text>
<text x="408.46" y="398.7" font-size="6.4" font-weight="bold" text-anchor="end" transform="rotate(-62 408.46 396.7)">2021-08</text>
<text x="417.73" y="398.7" font-size="6.4" font-weight="bold" text-anchor="end" transform="rotate(-62 417.73 396.7)">2021-10</text>
<text x="427" y="398.7" font-size="6.4" font-weight="bold" text-anchor="end" transform="rotate(-62 427 396.7)">2021-12</text>
<text x="436.27" y="398.7" font-size="6.4" font-weight="bold" text-anchor="end" transform="rotate(-62 436.27 396.7)">2022-02</text>
<text x="445.54" y="398.7" font-size="6.4" font-weight="bold" text-anchor="end" transform="rotate(-62 445.54 396.7)">2022-04</text>
<text x="454.81" y="398.7" font-size="6.4" font-weight="bold" text-anchor="end" transform="rotate(-62 454.81 396.7)">2022-06</text>
<text x="464.08" y="398.7" font-size="6.4" font-weight="bold" text-anchor="end" transform="rotate(-62 464.08 396.7)">2022-08</text>
<text x="473.35" y="398.7" font-size="6.4" font-weight="bold" text-anchor="end" transform="rotate(-62 473.35 396.7)">2022-10</text>
<text x="482.62" y="398.7" font-size="6.4" font-weight="bold" text-anchor="end" transform="rotate(-62 482.62 396.7)">2022-12</text>
<text x="491.89" y="398.7" font-size="6.4" font-weight="bold" text-anchor="end" transform="rotate(-62 491.89 396.7)">2023-02</text>
<text x="501.16" y="398.7" font-size="6.4" font-weight="bold" text-anchor="end" transform="rotate(-62 501.16 396.7)">2023-04</text>
<text x="510.43" y="398.7" font-size="6.4" font-weight="bold" text-anchor="end" transform="rotate(-62 510.43 396.7)">2023-06</text>
<text x="519.7" y="398.7" font-size="6.4" font-weight="bold" text-anchor="end" transform="rotate(-62 519.7 396.7)">2023-08</text>
<text x="528.97" y="398.7" font-size="6.4" font-weight="bold" text-anchor="end" transform="rotate(-62 528.97 396.7)">2023-10</text>
<text x="538.24" y="398.7" font-size="6.4" font-weight="bold" text-anchor="end" transform="rotate(-62 538.24 396.7)">2023-12</text>
<line x1="541.6" y1="399.4" x2="543.6" y2="396.4" stroke="#333" stroke-width="0.8"/>
<text x="305.8" y="306.55" transform="rotate(-90 305.8 306.55)" font-size="8.3" text-anchor="middle" font-weight="bold" textLength="77.5" lengthAdjust="spacingAndGlyphs" stroke="#111" stroke-width="0.25">Metal prices/(RMB/kg)</text>
<text x="334.9" y="235.67" font-size="9" font-weight="bold" textLength="10.4" lengthAdjust="spacingAndGlyphs">(d)</text>
<path d="M330.2 374.8 C330.66 374.73 333.88 374.28 334.8 374.1 C335.72 373.92 338.49 373.16 339.4 373 C340.31 372.84 342.99 372.72 343.9 372.5 C344.81 372.28 347.57 371.08 348.5 370.8 C349.43 370.52 352.25 369.75 353.2 369.7 C354.15 369.65 357.07 370.47 358 370.3 C358.93 370.13 361.6 368.45 362.5 368 C363.4 367.55 366.06 366.17 367 365.8 C367.94 365.43 370.96 364.77 371.9 364.3 C372.84 363.83 375.47 361.96 376.4 361.1 C377.33 360.24 380.29 356.01 381.2 355.7 C382.11 355.39 384.58 357.52 385.5 358 C386.42 358.48 389.47 360.06 390.4 360.5 C391.33 360.94 393.86 362.72 394.8 362.4 C395.74 362.08 398.83 358.22 399.8 357.3 C400.77 356.38 403.57 353.42 404.5 353.2 C405.43 352.98 408.28 355.15 409.1 355.1 C409.92 355.05 411.76 353.78 412.7 352.7 C413.64 351.62 417.47 345.52 418.5 344.3 C419.53 343.08 422.1 341.29 423 340.5 C423.9 339.71 426.51 337.7 427.5 336.4 C428.49 335.1 431.99 328.28 432.9 327.5 C433.81 326.72 435.68 327.44 436.6 328.6 C437.52 329.76 441.14 338.28 442.1 339.1 C443.06 339.92 445.38 337.18 446.2 336.8 C447.02 336.42 449.42 334.93 450.3 335.3 C451.18 335.67 454.04 339.28 455 340.5 C455.96 341.72 458.92 346.13 459.9 347.5 C460.88 348.87 463.86 353.87 464.8 354.2 C465.74 354.53 468.39 350.94 469.3 350.8 C470.21 350.66 472.98 352.87 473.9 352.8 C474.82 352.73 477.57 350.57 478.5 350.1 C479.43 349.63 482.3 348.22 483.2 348.1 C484.1 347.98 486.57 348.12 487.5 348.9 C488.43 349.68 491.54 354.59 492.5 355.9 C493.46 357.21 496.18 361.28 497.1 362 C498.02 362.72 500.77 363.05 501.7 363.1 C502.63 363.15 505.47 362.45 506.4 362.5 C507.33 362.55 510.08 363.72 511 363.6 C511.92 363.48 514.64 361.72 515.6 361.3 C516.56 360.88 519.67 359.59 520.6 359.4 C521.53 359.21 523.97 359.29 524.9 359.4 C525.83 359.51 528.96 360.11 529.9 360.5 C530.84 360.89 533.41 362.73 534.3 363.3 C535.19 363.87 538.35 365.91 538.8 366.2" fill="none" stroke="#4a4a4a" stroke-width="1.1" stroke-linejoin="round"/>
<path d="M330.2 357.1 C330.66 357 333.88 356.41 334.8 356.1 C335.72 355.79 338.49 354.41 339.4 354 C340.31 353.59 342.99 352.37 343.9 352 C344.81 351.63 347.57 350.6 348.5 350.3 C349.43 350 352.25 349 353.2 349 C354.15 349 357.07 350.67 358 350.3 C358.93 349.93 361.56 346.64 362.5 345.3 C363.44 343.96 366.48 338.13 367.4 336.9 C368.32 335.67 370.78 334.25 371.7 333 C372.62 331.75 375.65 327 376.6 324.4 C377.55 321.8 380.26 307.98 381.2 307 C382.14 306.02 385.09 312.63 386 314.6 C386.91 316.57 389.45 325.1 390.3 326.7 C391.15 328.3 393.59 331.39 394.5 330.6 C395.41 329.81 398.4 321.11 399.4 318.8 C400.4 316.49 403.55 308.43 404.5 307.5 C405.45 306.57 407.96 309.97 408.9 309.5 C409.84 309.03 412.96 305.03 413.9 302.8 C414.84 300.57 417.38 289.55 418.3 287.2 C419.22 284.85 422.19 281.69 423.1 279.3 C424.01 276.91 426.47 267.45 427.4 263.3 C428.33 259.15 431.45 240.38 432.4 237.8 C433.35 235.22 435.97 234.1 436.9 237.5 C437.83 240.9 440.78 268.28 441.7 271.8 C442.62 275.32 445.21 272.84 446.1 272.7 C446.99 272.56 449.65 269.43 450.6 270.4 C451.55 271.37 454.64 279.14 455.6 282.4 C456.56 285.66 459.28 298.8 460.2 303 C461.12 307.2 463.89 323.07 464.8 324.4 C465.71 325.73 468.37 317.02 469.3 316.3 C470.23 315.58 473.18 317.91 474.1 317.2 C475.02 316.49 477.56 310.62 478.5 309.2 C479.44 307.78 482.61 303.09 483.5 303 C484.39 302.91 486.51 306.04 487.4 308.3 C488.29 310.56 491.42 323.23 492.4 325.6 C493.38 327.97 496.24 331.27 497.2 332 C498.16 332.73 501.05 332.95 502 332.9 C502.95 332.85 505.79 331.07 506.7 331.5 C507.61 331.93 510.17 337.11 511.1 337.2 C512.03 337.29 515.03 333.31 516 332.4 C516.97 331.49 519.91 328.37 520.8 328.1 C521.69 327.83 523.99 329.16 524.9 329.7 C525.81 330.24 528.94 332.57 529.9 333.5 C530.86 334.43 533.61 337.82 534.5 339 C535.39 340.18 538.37 344.67 538.8 345.3" fill="none" stroke="#ff2a2a" stroke-width="1.1" stroke-linejoin="round"/>
<rect x="333.05" y="372.35" width="3.5" height="3.5" fill="#4a4a4a"/>
<rect x="342.15" y="370.75" width="3.5" height="3.5" fill="#4a4a4a"/>
<rect x="351.45" y="367.95" width="3.5" height="3.5" fill="#4a4a4a"/>
<rect x="360.75" y="366.25" width="3.5" height="3.5" fill="#4a4a4a"/>
<rect x="370.15" y="362.55" width="3.5" height="3.5" fill="#4a4a4a"/>
<rect x="379.45" y="353.95" width="3.5" height="3.5" fill="#4a4a4a"/>
<rect x="388.65" y="358.75" width="3.5" height="3.5" fill="#4a4a4a"/>
<rect x="398.05" y="355.55" width="3.5" height="3.5" fill="#4a4a4a"/>
<rect x="407.35" y="353.35" width="3.5" height="3.5" fill="#4a4a4a"/>
<rect x="416.75" y="342.55" width="3.5" height="3.5" fill="#4a4a4a"/>
<rect x="425.75" y="334.65" width="3.5" height="3.5" fill="#4a4a4a"/>
<rect x="434.85" y="326.85" width="3.5" height="3.5" fill="#4a4a4a"/>
<rect x="444.45" y="335.05" width="3.5" height="3.5" fill="#4a4a4a"/>
<rect x="453.25" y="338.75" width="3.5" height="3.5" fill="#4a4a4a"/>
<rect x="463.05" y="352.45" width="3.5" height="3.5" fill="#4a4a4a"/>
<rect x="472.15" y="351.05" width="3.5" height="3.5" fill="#4a4a4a"/>
<rect x="481.45" y="346.35" width="3.5" height="3.5" fill="#4a4a4a"/>
<rect x="490.75" y="354.15" width="3.5" height="3.5" fill="#4a4a4a"/>
<rect x="499.95" y="361.35" width="3.5" height="3.5" fill="#4a4a4a"/>
<rect x="509.25" y="361.85" width="3.5" height="3.5" fill="#4a4a4a"/>
<rect x="518.85" y="357.65" width="3.5" height="3.5" fill="#4a4a4a"/>
<rect x="528.15" y="358.75" width="3.5" height="3.5" fill="#4a4a4a"/>
<rect x="537.05" y="364.45" width="3.5" height="3.5" fill="#4a4a4a"/>
<circle cx="334.8" cy="356.1" r="2.2" fill="#ff2a2a"/>
<circle cx="343.9" cy="352" r="2.2" fill="#ff2a2a"/>
<circle cx="353.2" cy="349" r="2.2" fill="#ff2a2a"/>
<circle cx="362.5" cy="345.3" r="2.2" fill="#ff2a2a"/>
<circle cx="371.7" cy="333" r="2.2" fill="#ff2a2a"/>
<circle cx="381.2" cy="307" r="2.2" fill="#ff2a2a"/>
<circle cx="390.3" cy="326.7" r="2.2" fill="#ff2a2a"/>
<circle cx="399.4" cy="318.8" r="2.2" fill="#ff2a2a"/>
<circle cx="408.9" cy="309.5" r="2.2" fill="#ff2a2a"/>
<circle cx="418.3" cy="287.2" r="2.2" fill="#ff2a2a"/>
<circle cx="427.4" cy="263.3" r="2.2" fill="#ff2a2a"/>
<circle cx="436.9" cy="237.5" r="2.2" fill="#ff2a2a"/>
<circle cx="446.1" cy="272.7" r="2.2" fill="#ff2a2a"/>
<circle cx="455.6" cy="282.4" r="2.2" fill="#ff2a2a"/>
<circle cx="464.8" cy="324.4" r="2.2" fill="#ff2a2a"/>
<circle cx="474.1" cy="317.2" r="2.2" fill="#ff2a2a"/>
<circle cx="483.5" cy="303" r="2.2" fill="#ff2a2a"/>
<circle cx="492.4" cy="325.6" r="2.2" fill="#ff2a2a"/>
<circle cx="502" cy="332.9" r="2.2" fill="#ff2a2a"/>
<circle cx="511.1" cy="337.2" r="2.2" fill="#ff2a2a"/>
<circle cx="520.8" cy="328.1" r="2.2" fill="#ff2a2a"/>
<circle cx="529.9" cy="333.5" r="2.2" fill="#ff2a2a"/>
<line x1="463" y1="246.4" x2="485" y2="246.4" stroke="#4a4a4a" stroke-width="1.1"/>
<rect x="472.4" y="244.8" width="3.2" height="3.2" fill="#4a4a4a"/>
<text x="487.6" y="249.81" font-size="8.2" font-weight="bold" textLength="44" lengthAdjust="spacingAndGlyphs">Pr-Nd metal</text>
<line x1="463" y1="257.9" x2="485" y2="257.9" stroke="#ff2a2a" stroke-width="1.1"/>
<circle cx="474" cy="257.9" r="2" fill="#ff2a2a"/>
<text x="487.6" y="261.21" font-size="8.2" font-weight="bold" textLength="44" lengthAdjust="spacingAndGlyphs">Ho-Fe metal</text>
</svg></body></html>
